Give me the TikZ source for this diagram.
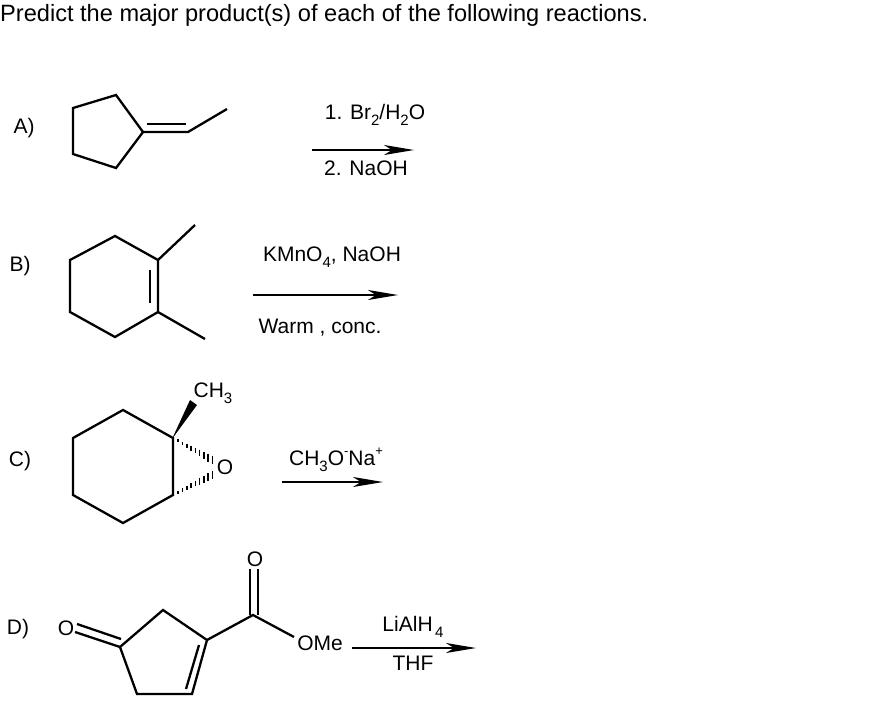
\documentclass[tikz,border=0pt]{standalone}
\usepackage{fontspec}
\setmainfont{Liberation Sans}
\usetikzlibrary{arrows.meta,calc}
\newcommand{\chsub}[1]{\raisebox{-0.55ex}{\fontsize{15}{15}\selectfont #1}}
\newcommand{\chsup}[1]{\raisebox{0.9ex}{\fontsize{13}{13}\selectfont #1}}
\begin{document}
\begin{tikzpicture}[x=1pt,y=-1pt,
  bond/.style={line width=2.3pt,line join=miter},
  rxn/.style={line width=2pt,-{Stealth[length=30pt,width=10pt,inset=8pt]}},
  lbl/.style={font=\fontsize{21}{24}\selectfont,inner sep=0pt},
  hashb/.style={line width=1.6pt}]
\useasboundingbox (0,0) rectangle (888,718);
\node[lbl,anchor=west,font=\fontsize{23.6}{26}\selectfont] (title) at (0,15) {Predict the major product(s) of each of the following reactions.};
\node[lbl] (la) at (24,128) {A)};
\node[lbl] (lb) at (20,266) {B)};
\node[lbl] (lc) at (20,461) {C)};
\node[lbl] (ld) at (18,629) {D)};
% A
\draw[bond] (116,95)--(73,108)--(73,154)--(116,168)--(143,132)--cycle;
\draw[bond] (143,132)--(188,132)--(227,109);
\draw[bond] (147,124)--(186,124);
\coordinate (a1) at (312,150); \coordinate (a2) at (414,150);
\draw[rxn] (a1)--(a2);
\node[lbl] (ta) at (375,115) {1. Br\chsub{2}/H\chsub{2}O};
\node[lbl] (tb) at (366,168) {2. NaOH};
% B
\draw[bond] (115,236)--(70,260)--(70,312)--(115,337)--(158,312)--(158,260)--cycle;
\draw[bond] (158,260)--(195,225);
\draw[bond] (158,312)--(205,339);
\draw[bond] (150,270)--(150,303);
\coordinate (b1) at (253,295); \coordinate (b2) at (398,295);
\draw[rxn] (b1)--(b2);
\node[lbl] (tc) at (332,257) {KMnO\chsub{4}, NaOH};
\node[lbl] (td) at (320,328) {Warm , conc.};
% C
\draw[bond] (123,410)--(73,438)--(73,495)--(123,523)--(173,495)--(173,438)--cycle;
\node[lbl] (ch3) at (213,393) {CH\chsub{3}};
\fill (172,439)--(190,400)--(197,405)--cycle;
\node[lbl] (oc) at (225,467) {O};
\foreach \t in {0.12,0.22,...,0.95}{
  \draw[hashb] ($(173,438)!\t!(216,462)+(0,-1.0-3.5*\t)$)--($(173,438)!\t!(216,462)+(0,1.0+3.5*\t)$);
  \draw[hashb] ($(173,495)!\t!(216,473)+(0,-1.0-3.5*\t)$)--($(173,495)!\t!(216,473)+(0,1.0+3.5*\t)$);
}
\coordinate (c1) at (282,482); \coordinate (c2) at (383,482);
\draw[rxn] (c1)--(c2);
\node[lbl] (te) at (336,460) {CH\chsub{3}O\chsup{-}Na\chsup{+}};
% D
\node[lbl] (od1) at (66,628) {O};
\draw[bond] (120,647)--(163,610)--(207,640)--(192,694)--(137,694)--cycle;
\draw[bond] (75,632)--(120,647);
\draw[bond] (77,624)--(121,639);
\draw[bond] (199,645)--(186,689);
\draw[bond] (207,640)--(253,615)--(294,637);
\node[lbl] (od2) at (255,559) {O};
\draw[bond] (250,569)--(250,615);
\draw[bond] (258,569)--(258,615);
\node[lbl] (ome) at (320,643) {OMe};
\coordinate (d1) at (352,648); \coordinate (d2) at (476,648);
\draw[rxn] (d1)--(d2);
\node[lbl] (tf) at (413,627) {LiAlH\chsub{\,4}};
\node[lbl] (tg) at (413,663) {THF};
\end{tikzpicture}
\end{document}
